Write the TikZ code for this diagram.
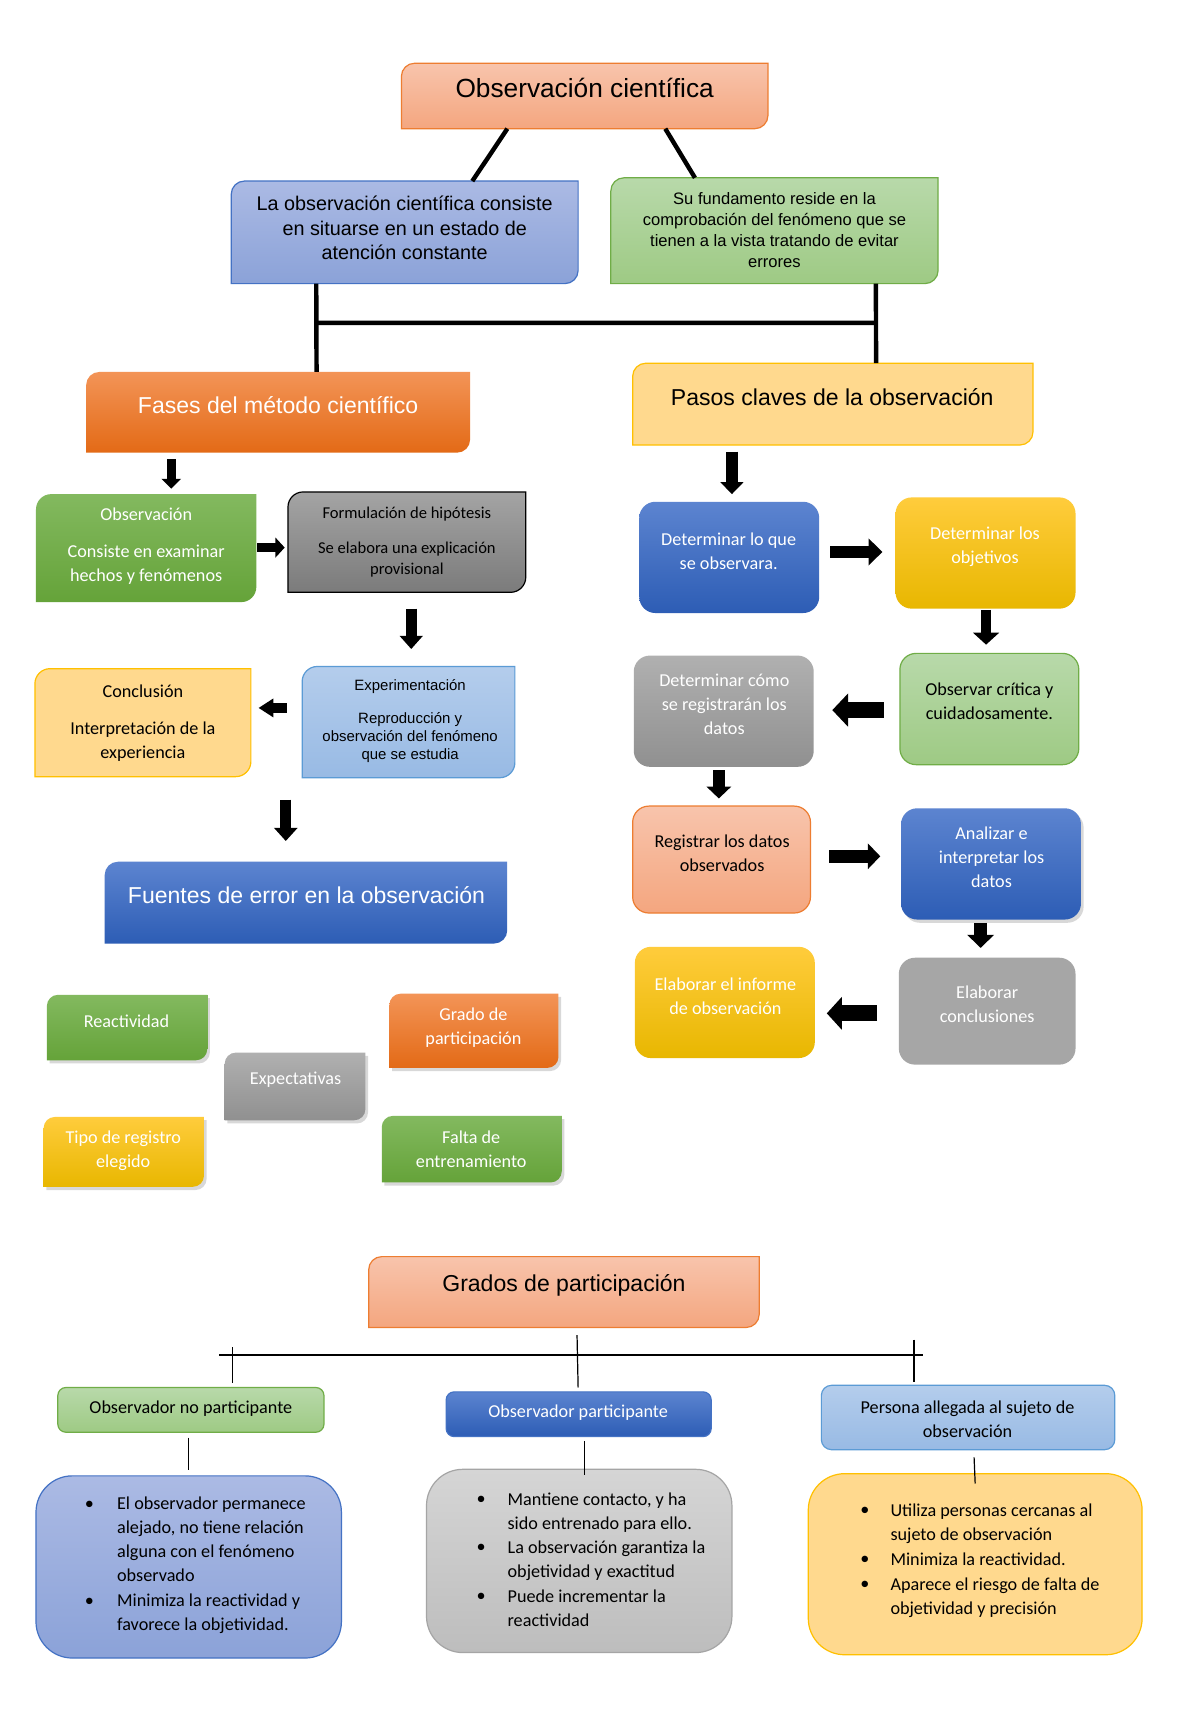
\documentclass[tikz,border=0pt]{standalone}
\usepackage{fontspec}
\setmainfont{Liberation Sans}
\newfontfamily\calfont{Carlito}
\usetikzlibrary{arrows.meta,calc,shadows}

\definecolor{salT}{HTML}{F8C4AC}
\definecolor{salB}{HTML}{F4A67F}
\definecolor{orgLine}{HTML}{ED7D31}
\definecolor{lavT}{HTML}{ABBAE4}
\definecolor{lavB}{HTML}{8BA2D8}
\definecolor{blueLine}{HTML}{4472C4}
\definecolor{lgrT}{HTML}{B8D9AA}
\definecolor{lgrB}{HTML}{9ECA84}
\definecolor{grLine}{HTML}{70AD47}
\definecolor{orT}{HTML}{F39457}
\definecolor{orB}{HTML}{E36A16}
\definecolor{yelF}{HTML}{FFD98E}
\definecolor{goldLine}{HTML}{FFC000}
\definecolor{grT}{HTML}{83B95F}
\definecolor{grB}{HTML}{65A339}
\definecolor{gyT}{HTML}{A4A4A4}
\definecolor{gyB}{HTML}{7B7B7B}
\definecolor{lbT}{HTML}{B4CDEC}
\definecolor{lbB}{HTML}{98BAE4}
\definecolor{lbLine}{HTML}{5B9BD5}
\definecolor{blT}{HTML}{5C84D0}
\definecolor{blB}{HTML}{2D5DB5}
\definecolor{goT}{HTML}{FFCC3C}
\definecolor{goM}{HTML}{FFC000}
\definecolor{goB}{HTML}{E8B700}
\definecolor{g2T}{HTML}{B0B0B0}
\definecolor{g2B}{HTML}{909090}
\definecolor{g3}{HTML}{A6A6A6}
\definecolor{g4T}{HTML}{D5D5D5}
\definecolor{g4B}{HTML}{BDBDBD}
\definecolor{g4Line}{HTML}{A5A5A5}
\definecolor{txW}{HTML}{FFFFFF}

% invisible (or styled) box node spanning (x1,y1)-(x2,y2)
\newcommand\mkbox[6][]{%
  \node[inner sep=0pt,outer sep=0pt,minimum width={(#5-#3)*0.54pt},
        minimum height={(#6-#4)*0.54pt},#1] (#2) at ({(#3+#5)/2},{(#4+#6)/2}) {};}
% shape with rounded top-left and bottom-right corners drawn on a node
\newcommand\dshape[3]{%
  \path[#2] (#1.south west) -- ([yshift=-#3]#1.north west)
    arc[start angle=180,end angle=90,radius=#3] -- (#1.north east)
    -- ([yshift=#3]#1.south east) arc[start angle=0,end angle=-90,radius=#3] -- cycle;}

\begin{document}
\begin{tikzpicture}[x=0.54pt,y=-0.54pt,
  txt/.style={align=center,inner sep=0pt},
  thickline/.style={line width=2.2pt,black},
  thinline/.style={line width=0.6pt,black},
  barrow/.style n args={3}{line width=#1,black,-{Triangle[width=#2,length=#3]}},
  sh/.style={drop shadow={shadow xshift=1.3pt,shadow yshift=-1.6pt,opacity=0.3}},
  fsal/.style={top color=salT,bottom color=salB,draw=orgLine,line width=0.6pt},
  flav/.style={top color=lavT,bottom color=lavB,draw=blueLine,line width=0.6pt},
  flgr/.style={top color=lgrT,bottom color=lgrB,draw=grLine,line width=0.6pt},
  forg/.style={top color=orT,bottom color=orB},
  fyel/.style={fill=yelF,draw=goldLine,line width=0.6pt},
  fgr/.style={top color=grT,bottom color=grB},
  fgy/.style={top color=gyT,bottom color=gyB,draw=black,line width=0.6pt},
  flb/.style={top color=lbT,bottom color=lbB,draw=lbLine,line width=0.6pt},
  fbl/.style={top color=blT,bottom color=blB},
  fgo/.style={top color=goT,middle color=goM,bottom color=goB},
  fg2/.style={top color=g2T,bottom color=g2B},
  fg3/.style={fill=g3},
  fg4/.style={top color=g4T,bottom color=g4B,draw=g4Line,line width=0.6pt},
  ar/.style={font=\fontsize{9.8}{12.1}\selectfont},
  big/.style={font=\fontsize{11.4}{13.5}\selectfont},
  cal/.style={font=\calfont\fontsize{9}{11.9}\selectfont},
  bul/.style={anchor=base,inner sep=0pt,cal},
  itm/.style={anchor=north west,align=left,inner sep=0pt,cal},
]
\fill[white] (0,0) rectangle (1100,1575);
\useasboundingbox (0,0) rectangle (1100,1575);

% ---------------- top ----------------
\mkbox{T}{368}{58}{704}{118}       \dshape{T}{fsal}{6.5pt}
\node[txt,font=\fontsize{13}{15}\selectfont] (Tt) at (536,81) {Observación científica};

\mkbox{A}{212}{166}{530}{260}      \dshape{A}{flav}{6.5pt}
\node[txt,ar] (At) at (371,209) {La observación científica consiste\\en situarse en un estado de\\atención constante};

\mkbox{B}{560}{163}{860}{260}      \dshape{B}{flgr}{6.5pt}
\node[txt,font=\fontsize{8.2}{10.3}\selectfont] (Bt) at (710,211) {Su fundamento reside en la\\comprobación del fenómeno que se\\tienen a la vista tratando de evitar\\errores};

\mkbox{F}{79}{341}{431}{415}       \dshape{F}{forg}{6.5pt}
\node[txt,big,text=txW] (Ft) at (255,371) {Fases del método científico};

\mkbox{P}{580}{333}{947}{408}      \dshape{P}{fyel}{6.5pt}
\node[txt,big] (Pt) at (763,364) {Pasos claves de la observación};

% connectors top
\draw[thickline] ($(T.south west)!0.289!(T.south east)$) -- ($(A.north west)!0.695!(A.north east)$);
\draw[thickline] ($(T.south west)!0.72!(T.south east)$) -- ($(B.north west)!0.257!(B.north east)$);
\coordinate (a1) at ($(A.south west)!0.245!(A.south east)$);
\coordinate (f1) at ($(F.north west)!0.6!(F.north east)$);
\coordinate (b1) at ($(B.south west)!0.81!(B.south east)$);
\coordinate (p1) at ($(P.north west)!0.608!(P.north east)$);
\draw[thickline] (a1) -- (f1);
\draw[thickline] (b1) -- (p1);
\coordinate (h1) at ($(a1)!0.444!(f1)$);
\coordinate (h2) at ($(b1)!0.493!(p1)$);
\draw[thickline] (h1) -- (h2);

% ---------------- left column ----------------
\mkbox{L1}{33}{453}{235}{552}      \dshape{L1}{fgr}{7.5pt}
\node[txt,cal,text=txW] (L1t) at (134,501) {Observación\\[6.5pt]Consiste en examinar\\hechos y fenómenos};

\mkbox{L2}{264}{451}{482}{543}     \dshape{L2}{fgy}{7.5pt}
\node[txt,font=\calfont\fontsize{8.2}{10.8}\selectfont] (L2t) at (373,497) {Formulación de hipótesis\\[6.5pt]Se elabora una explicación\\provisional};

\mkbox{L3}{32}{613}{230}{712}      \dshape{L3}{fyel}{7.5pt}
\node[txt,cal] (L3t) at (131,663) {Conclusión\\[6.5pt]Interpretación de la\\experiencia};

\mkbox{L4}{277}{611}{472}{713}     \dshape{L4}{flb}{7.5pt}
\node[txt,font=\fontsize{7.4}{8.9}\selectfont] (L4t) at (376,661) {Experimentación\\[7.3pt]Reproducción y\\observación del fenómeno\\que se estudia};

\mkbox{L5}{96}{790}{465}{865}      \dshape{L5}{fbl}{6.5pt}
\node[txt,big,text=txW] (L5t) at (281,821) {Fuentes de error en la observación};

\coordinate (a1s) at (157,421);  \coordinate (a1e) at (157,448);
\coordinate (a2s) at (236,502);  \coordinate (a2e) at (261,502);
\coordinate (a3s) at (377,558);  \coordinate (a3e) at (377,595);
\coordinate (a4s) at (263,649);  \coordinate (a4e) at (237,649);
\coordinate (a5s) at (262,733);  \coordinate (a5e) at (262,771);
\draw[barrow={4.6pt}{9.5pt}{4.9pt}] (a1s) -- (a1e);
\draw[barrow={4.8pt}{9.7pt}{4.6pt}] (a2s) -- (a2e);
\draw[barrow={5.6pt}{11.1pt}{6.5pt}] (a3s) -- (a3e);
\draw[barrow={4.6pt}{8.9pt}{7.4pt}] (a4s) -- (a4e);
\draw[barrow={5.6pt}{11.3pt}{6.5pt}] (a5s) -- (a5e);

% ---------------- error sources ----------------
\mkbox{E1}{43}{912}{190}{972}      \dshape{E1}{fgr,sh}{5.5pt}
\node[txt,cal,text=txW] (E1t) at (116,936) {Reactividad};
\mkbox{E2}{206}{965}{335}{1027}    \dshape{E2}{fg2,sh}{5.5pt}
\node[txt,cal,text=txW] (E2t) at (271,990) {Expectativas};
\mkbox{E3}{357}{911}{512}{979}     \dshape{E3}{forg,sh}{5.5pt}
\node[txt,cal,text=txW] (E3t) at (434,942) {Grado de\\participación};
\mkbox{E4}{40}{1024}{187}{1088}    \dshape{E4}{fgo,sh}{5.5pt}
\node[txt,cal,text=txW] (E4t) at (113,1055) {Tipo de registro\\elegido};
\mkbox{E5}{350}{1023}{515}{1084}   \dshape{E5}{fgr,sh}{5.5pt}
\node[txt,cal,text=txW] (E5t) at (432,1054) {Falta de\\entrenamiento};

% ---------------- right column ----------------
\mkbox[rounded corners=8pt,fbl]{R1}{586}{460}{751}{562}
\node[txt,cal,text=txW] (R1t) at (668,505) {Determinar lo que\\se observara.};
\mkbox[rounded corners=8pt,fgo]{R2}{821}{456}{986}{558}
\node[txt,cal,text=txW] (R2t) at (903,501) {Determinar los\\objetivos};
\mkbox[rounded corners=8pt,flgr]{R3}{825}{599}{989}{701}
\node[txt,cal] (R3t) at (907,643) {Observar crítica y\\cuidadosamente.};
\mkbox[rounded corners=8pt,fg2]{R4}{581}{601}{746}{703}
\node[txt,cal,text=txW] (R4t) at (664,646) {Determinar cómo\\se registrarán los\\datos};
\mkbox[rounded corners=8pt,fsal]{R5}{580}{739}{743}{837}
\node[txt,cal] (R5t) at (662,782) {Registrar los datos\\observados};
\mkbox[rounded corners=8pt,fbl,sh]{R6}{826}{741}{991}{843}
\node[txt,cal,text=txW] (R6t) at (909,786) {Analizar e\\interpretar los\\datos};
\mkbox[rounded corners=8pt,fg3]{R7}{824}{878}{986}{976}
\node[txt,cal,text=txW] (R7t) at (905,921) {Elaborar\\conclusiones};
\mkbox[rounded corners=8pt,fgo]{R8}{582}{868}{747}{970}
\node[txt,cal,text=txW] (R8t) at (665,913) {Elaborar el informe\\de observación};

\coordinate (a6s) at (671,414);   \coordinate (a6e) at (671,453);
\coordinate (a7s) at (761,506);   \coordinate (a7e) at (809,506);
\coordinate (a8s) at (904,559);   \coordinate (a8e) at (904,591);
\coordinate (a9s) at (810,651);   \coordinate (a9e) at (763,651);
\coordinate (a10s) at (659,706);  \coordinate (a10e) at (659,732);
\coordinate (a11s) at (760,785);  \coordinate (a11e) at (807,785);
\coordinate (a12s) at (899,846);  \coordinate (a12e) at (899,869);
\coordinate (a13s) at (804,929);  \coordinate (a13e) at (758,929);
\draw[barrow={5.6pt}{11.1pt}{5.9pt}] (a6s) -- (a6e);
\draw[barrow={5.9pt}{13pt}{6.9pt}] (a7s) -- (a7e);
\draw[barrow={5.2pt}{12.6pt}{5.9pt}] (a8s) -- (a8e);
\draw[barrow={7.9pt}{16pt}{7.8pt}] (a9s) -- (a9e);
\draw[barrow={6.1pt}{12pt}{5.9pt}] (a10s) -- (a10e);
\draw[barrow={6.3pt}{12.3pt}{6.1pt}] (a11s) -- (a11e);
\draw[barrow={6.1pt}{13pt}{6.5pt}] (a12s) -- (a12e);
\draw[barrow={7.9pt}{15.8pt}{7.4pt}] (a13s) -- (a13e);

% ---------------- grados de participación ----------------
\mkbox{G}{338}{1152}{696}{1217}    \dshape{G}{fsal}{6.5pt}
\node[txt,big] (Gt) at (517,1178) {Grados de participación};

\coordinate (hl) at (201,1242);  \coordinate (hr) at (846,1242);
\draw[line width=0.9pt] (hl) -- (hr);
\coordinate (t1a) at (213,1235); \coordinate (t1b) at (213,1268);
\coordinate (t2a) at (529,1224); \coordinate (t2b) at (530,1272);
\coordinate (t3a) at (838,1228); \coordinate (t3b) at (838,1267);
\draw[thinline] (t1a) -- (t1b);
\draw[thinline] (t2a) -- (t2b);
\draw[thinline] (t3a) -- (t3b);

\mkbox[rounded corners=4pt,flgr]{H1}{53}{1272}{297}{1313}
\node[txt,cal] (H1t) at (175,1291) {Observador no participante};
\mkbox[rounded corners=4pt,fbl,draw=blueLine,line width=0.6pt]{H2}{409}{1276}{652}{1317}
\node[txt,cal,text=txW] (H2t) at (530,1295) {Observador participante};
\mkbox[rounded corners=5pt,flb]{H3}{753}{1270}{1022}{1329}
\node[txt,cal] (H3t) at (887,1301) {Persona allegada al sujeto de\\observación};

\mkbox[rounded corners=18pt,flav]{D1}{33}{1353}{313}{1520}
\mkbox[rounded corners=18pt,fg4]{D2}{391}{1347}{671}{1515}
\mkbox[rounded corners=18pt,fyel]{D3}{741}{1351}{1047}{1517}

\coordinate (c1a) at (173,1318); \coordinate (c1b) at (173,1348);
\coordinate (c2a) at (536,1321); \coordinate (c2b) at (536,1352);
\coordinate (c3a) at (893,1336); \coordinate (c3b) at (894,1360);
\draw[thinline] (c1a) -- (c1b);
\draw[thinline] (c2a) -- (c2b);
\draw[thinline] (c3a) -- (c3b);

% bullets (bullet at baseline; item text from top with strut)
\node[bul] (d1b1) at (82,1383.5) {•};
\node[itm] (d1i1) at (107,1368.1) {\strut El observador permanece\\alejado, no tiene relación\\alguna con el fenómeno\\observado};
\node[bul] (d1b2) at (82,1472.5) {•};
\node[itm] (d1i2) at (107,1457.1) {\strut Minimiza la reactividad y\\favorece la objetividad.};

\node[bul] (d2b1) at (441,1379.5) {•};
\node[itm] (d2i1) at (465,1364.1) {\strut Mantiene contacto, y ha\\sido entrenado para ello.};
\node[bul] (d2b2) at (441,1423.5) {•};
\node[itm] (d2i2) at (465,1408.1) {\strut La observación garantiza la\\objetividad y exactitud};
\node[bul] (d2b3) at (441,1468.5) {•};
\node[itm] (d2i3) at (465,1453.1) {\strut Puede incrementar la\\reactividad};

\node[bul] (d3b1) at (793,1389.5) {•};
\node[itm] (d3i1) at (816,1374.1) {\strut Utiliza personas cercanas al\\sujeto de observación};
\node[bul] (d3b2) at (793,1434.5) {•};
\node[itm] (d3i2) at (816,1419.1) {\strut Minimiza la reactividad.};
\node[bul] (d3b3) at (793,1457.5) {•};
\node[itm] (d3i3) at (816,1442.1) {\strut Aparece el riesgo de falta de\\objetividad y precisión};
\end{tikzpicture}
\end{document}
